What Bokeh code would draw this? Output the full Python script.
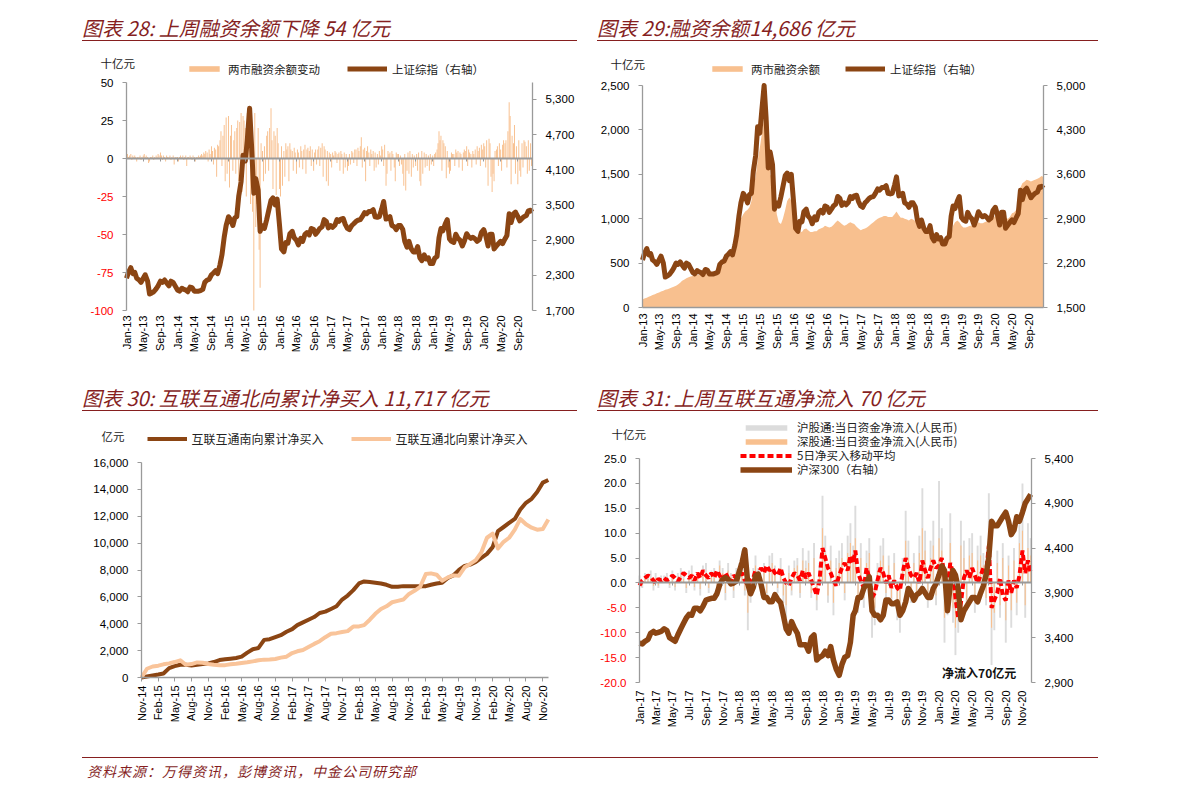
import math
import pandas as pd
from bokeh.plotting import figure
from bokeh.models import (Range1d, LinearAxis, DatetimeAxis, FixedTicker, DatetimeTickFormatter,
                          NumeralTickFormatter, CustomJSTickFormatter, Legend, LegendItem, Label, Div)
from bokeh.layouts import column, row
from bokeh.embed import file_html
from bokeh.resources import INLINE

# ============================ DATA ============================
# --- 图表28 / 图表29 : semi-monthly Shanghai Composite and margin balance (十亿元)
sse_dates = list(pd.date_range("2013-01-01", "2020-12-15", freq="SMS"))
sse_index = [
    2250, 2350, 2430, 2330, 2350, 2250, 2220, 2180, 2250, 2310, 2200, 1980, 2000, 2020, 2070, 2120, 2200, 2180, 2220, 2170, 2120, 2200, 2180, 2120,
    2050, 2030, 2080, 2060, 2050, 2020, 2100, 2090, 2030, 2030, 2030, 2040, 2060, 2180, 2220, 2230, 2310, 2340, 2380, 2330, 2480, 2650, 2950, 3150,
    3300, 3250, 3150, 3280, 3300, 3650, 3900, 4350, 4250, 4600, 5150, 4500, 3700, 3950, 3750, 3050, 3150, 3100, 3250, 3400, 3580, 3620, 3500, 3600,
    3150, 2750, 2700, 2860, 2850, 3010, 3050, 2940, 2900, 2820, 2930, 2880, 3000, 3030, 2990, 3100, 3080, 3000, 3050, 3100, 3130, 3250, 3220, 3110,
    3150, 3120, 3160, 3250, 3220, 3260, 3270, 3170, 3100, 3080, 3150, 3180, 3220, 3240, 3250, 3300, 3370, 3350, 3390, 3390, 3420, 3300, 3290, 3300,
    3430, 3560, 3260, 3270, 3300, 3150, 3130, 3080, 3150, 3150, 3080, 2880, 2780, 2880, 2750, 2700, 2700, 2790, 2600, 2550, 2650, 2580, 2600, 2500,
    2500, 2590, 2620, 2940, 3100, 3060, 3180, 3250, 2920, 2880, 2860, 3000, 2930, 2900, 2800, 2880, 3010, 2960, 2930, 2950, 2920, 2880, 2910, 3030,
    3080, 2980, 2800, 3000, 3000, 2750, 2800, 2840, 2880, 2840, 2920, 2980, 3350, 3200, 3350, 3380, 3300, 3230, 3270, 3300, 3320, 3400, 3410, 3380,
]
margin_balance = [
    90, 100, 110, 120, 130, 140, 150, 160, 170, 180, 190, 200, 205, 215, 225, 235, 245, 260, 280, 300, 315, 330, 340, 350,
    355, 360, 365, 370, 375, 380, 385, 390, 395, 400, 405, 410, 420, 440, 470, 500, 530, 560, 580, 620, 700, 800, 900, 1000,
    1050, 1080, 1100, 1130, 1200, 1350, 1480, 1650, 1800, 1950, 2150, 2270, 2100, 1500, 1450, 1350, 1050, 960, 940, 1000, 1100, 1200, 1240, 1200,
    1150, 900, 870, 860, 850, 880, 890, 870, 850, 850, 860, 860, 880, 890, 900, 920, 910, 900, 910, 930, 960, 980, 960, 940,
    920, 930, 950, 960, 950, 940, 910, 890, 870, 880, 890, 900, 920, 940, 960, 980, 1000, 1010, 1020, 1030, 1030, 1020, 1020, 1020,
    1050, 1080, 1040, 1010, 1010, 1000, 990, 980, 1000, 990, 970, 930, 900, 890, 870, 860, 850, 850, 820, 780, 770, 760, 760, 750,
    740, 750, 780, 830, 920, 960, 980, 960, 920, 900, 900, 910, 920, 920, 920, 930, 960, 950, 950, 960, 970, 980, 990, 1010,
    1030, 1040, 1030, 1080, 1080, 1010, 1000, 1020, 1060, 1070, 1100, 1150, 1350, 1400, 1420, 1440, 1430, 1420, 1430, 1440, 1450, 1460, 1480, 1470,
]
# weekly change in margin balance (十亿元)
chg_dates = [pd.Timestamp(y, m, d) for y in range(2013, 2021) for m in range(1, 13) for d in (1, 8, 15, 22)][:382]
margin_change = [
    2, 3, 1, 2, 3, -1, 2, 1, 2, 1, -2, 1, 1, 2, -1, 1, 2, 3, 1, 2, 1, -3, -2, 1, 1, 2, -1, 1, 2, 1, 3, 2, 4, 2, -1, 2, 1, -2, 2, 1, 1, 2, -1, 1, 2, -4, 1, 1,
    1, -2, 1, 2, 1, 2, -1, 1, 2, -5, 1, 1, 2, 1, -1, 2, 1, -2, 1, 1, 2, 1, 2, 3, 2, 4, 3, 5, 4, -2, 6, 3, 8, 5, -4, 7, 6, -12, 9, 8, 12, 18, -5, 15, 22, -15, 27, -10,
    28, -19, 15, 22, -8, 12, 18, -10, 20, 25, -15, 24, 30, -22, 28, 25, 20, -25, 30, 28, 33, -30, 15, -35, -100, 30, -45, -30, 20, -60, -85, 10, 5, -15, 8, -10, 15, 18, -8, 20, 33, 12, -20, 18, 15, -24, 20, 10,
    -20, -25, 8, -18, 5, -12, 10, 6, 8, -15, 10, 6, 5, -8, 7, 4, -10, 6, 4, -6, 8, 5, -7, 6, 9, -10, 6, 7, 5, 8, -5, 6, -8, 4, 6, -4, 6, 8, -5, 7, 10, -12, 8, 6, -15, 5, -18, 4,
    3, -6, 4, 2, 5, 4, -3, 3, 4, -8, 5, 3, -10, 4, -6, 3, -8, -5, 3, -4, 5, 4, -3, 6, 6, -5, 7, 5, 8, 14, -6, 6, 7, -15, 5, 8, 4, -5, 6, 3, 5, -8, 4, -6, 3, -4, 5, 2,
    8, 6, -5, 9, -18, -10, 5, 3, 4, -8, 5, 3, -6, -15, 4, 3, 3, -5, 2, -4, -10, -18, 3, -21, -8, 4, -10, 5, -12, 3, -6, 2, -5, 3, -8, 4, -15, -18, 5, -10, 4, -6, 3, -5, 2, -8, 3, -4,
    2, -5, 3, 4, 6, 10, 18, 12, 15, -8, 12, 10, 8, -13, 5, -6, -10, -8, 4, 3, 3, -5, 6, 4, 5, -6, 4, 3, -8, 4, 6, 5, 8, -5, 6, 4, 3, -6, 5, 3, 6, -4, 8, 5, 7, -5, 9, 6,
    10, 8, -6, 12, -18, 13, 10, -12, -22, -10, -15, 5, 6, 8, -5, 10, 6, -8, 9, 12, 10, 12, -6, 18, 37, 28, -17, 15, 10, 22, -10, 8, -17, 12, -8, -12, 10, -6, 12, 11, 8, -10, 12, -8, 10, -5,
]
ticks_2829 = list(pd.date_range("2013-01-01", "2020-09-01", freq="4MS"))
left_ticks_28 = [-100, -75, -50, -25, 0, 25, 50]
right_ticks_28 = [1700, 2300, 2900, 3500, 4100, 4700, 5300]
left_ticks_29 = [0, 500, 1000, 1500, 2000, 2500]
right_ticks_29 = [1500, 2200, 2900, 3600, 4300, 5000]

# --- 图表30 : monthly cumulative Stock Connect net buying (亿元)
hk_dates = [pd.Timestamp(2014, 11, 1), pd.Timestamp(2014, 12, 1)] + \
           [pd.Timestamp(y, m, 1) for y in range(2015, 2021) for m in range(1, 13)]
southbound = [
    0, 80,
    150, 220, 300, 700, 850, 950, 950, 900, 950, 1000, 1050, 1150,
    1300, 1350, 1400, 1450, 1550, 1850, 2100, 2200, 2800, 2850, 3000, 3150,
    3400, 3600, 3900, 4100, 4300, 4500, 4800, 4900, 5100, 5300, 5800, 6100,
    6500, 7000, 7150, 7100, 7050, 7000, 6900, 6750, 6750, 6800, 6800, 6800,
    6800, 6800, 6900, 7000, 7050, 7400, 7600, 8000, 8300, 8400, 8600, 8900,
    9200, 9700, 10900, 11200, 11500, 11800, 12500, 13000, 13300, 13800, 14500, 14700,
]
northbound = [
    0, 650,
    820, 880, 980, 1050, 1150, 1280, 950, 1000, 1120, 1100, 1000, 950,
    920, 920, 980, 1020, 1080, 1130, 1200, 1280, 1330, 1340, 1380, 1480,
    1550, 1820, 1950, 2050, 2270, 2500, 2700, 3000, 3250, 3300, 3380, 3450,
    3800, 3800, 3900, 4300, 4740, 5100, 5300, 5600, 5700, 5800, 6220, 6450,
    6750, 7700, 7750, 7650, 7200, 7450, 7600, 7580, 8200, 8450, 8740, 9300,
    10400, 10700, 9600, 10100, 10400, 11000, 11800, 11400, 11150, 11000, 11050, 11750,
]
ticks_30 = list(pd.date_range("2014-11-01", "2020-11-01", freq="3MS"))
left_ticks_30 = [0, 2000, 4000, 6000, 8000, 10000, 12000, 14000, 16000]

# --- 图表31 : Stock Connect flows (十亿元) and CSI 300, three readings per month
flow_dates = [pd.Timestamp(y, m, d) for y in range(2017, 2021) for m in range(1, 13) for d in (1, 11, 21)][:142]
sh_flow = [
    1.5, -1.0, 2.0, 1.0, 2.5, -1.5, 2.0, -1.0, 1.5, 1.5, 2.0, -1.0, 2.5, -1.5, 2.0, 3.0, 1.5, -2.0, 2.5, 3.5, -1.5, 2.0, -2.5, 3.5, 4.0, -2.0, 2.5, 3.0, -1.5, 4.5, 3.0, -3.5, 4.0, 2.0, -3.0, 3.0,
    4.0, 6.5, -2.5, -9.5, -4.0, 3.0, 5.5, 3.0, -2.5, 4.0, -3.5, 5.5, 6.0, 3.5, -2.0, 5.0, -4.0, -7.0, 3.5, -2.5, 4.5, 5.0, -3.0, 7.0, 4.5, 6.5, -3.0, 8.0, -5.5, 4.0, 17.5, 9.5, -4.0, 7.5, -6.5, 5.0,
    6.5, 8.0, -3.5, 9.5, 12.0, 7.5, 15.5, -6.0, 8.0, -5.0, 6.5, 9.0, -11.0, -8.5, 4.0, 7.5, 9.0, -3.5, 5.5, -4.5, 6.0, -7.5, -10.0, 5.0, 14.5, 8.5, -4.0, 6.0, -3.5, 9.5, 19.0, 10.5, -5.0, 8.5, 12.5, -4.5,
    20.5, 11.0, -12.0, -6.5, 14.0, -8.0, -14.5, -10.0, 12.5, 8.5, -5.5, 9.0, 10.0, -6.0, 7.5, 9.5, 6.0, -4.5, 18.0, -16.5, -9.5, 6.5, -7.0, 8.0, -12.0, 5.5, -9.0, 7.0, -6.5, 13.0, 20.0, -7.0, 12.0, 9.0,
]
sz_flow = [
    0.5, -0.5, 1.0, 0.8, 1.0, -0.6, 1.0, -0.5, 0.8, 0.6, 1.2, -0.4, 1.0, -0.8, 1.2, 1.5, 0.8, -1.0, 1.2, 2.0, -0.8, 1.0, -1.2, 2.5, 1.8, -1.0, 1.5, 2.0, -0.8, 3.5, 2.0, -2.0, 2.5, 1.2, -1.5, 2.0,
    2.5, 3.5, -1.5, -6.0, -2.5, 2.0, 3.5, 2.0, -1.5, 2.5, -2.0, 3.0, 4.0, 2.0, -1.0, 3.0, -2.5, -4.5, 2.0, -1.5, 3.0, 3.5, -2.0, 4.5, 3.0, 4.0, -2.0, 5.0, -3.5, 2.5, 11.0, 6.0, -2.5, 4.5, -4.0, 3.0,
    4.0, 5.0, -2.0, 6.0, 8.0, 4.5, 9.0, -4.0, 5.0, -3.0, 4.0, 6.0, -7.0, -5.0, 2.5, 4.5, 5.5, -2.0, 3.5, -3.0, 4.0, -4.5, -6.0, 3.0, 8.5, 5.0, -2.5, 4.0, -2.0, 6.0, 11.0, 6.5, -3.0, 5.0, 7.5, -2.5,
    9.0, 6.5, -7.0, -4.0, 8.0, -5.0, -9.0, -6.0, 7.5, 5.0, -3.5, 5.5, 6.0, -4.0, 4.5, 5.5, 3.5, -3.0, 11.0, -9.0, -6.0, 4.0, -4.5, 5.0, -7.5, 3.5, -5.5, 4.5, -4.0, 8.0, 10.5, -4.5, 7.0, 5.5,
]
ma5_flow = [
    -0.5, 0.5, 1.0, 1.5, 1.2, 0.5, 0.0, 0.8, 0.5, 1.0, 0.5, 0.8, 1.5, 1.0, 0.3, 1.2, 2.0, 1.5, 1.0, 1.5, 0.5, 2.0, 1.0, 2.5, 1.5, 1.0, 2.0, 1.0, 2.5, 1.5, 0.5, 2.0, 1.0, 0.0, 1.5, 1.0,
    1.5, 2.0, 0.5, -0.5, 0.5, 1.0, 2.5, 1.5, 3.0, 2.0, 3.5, 2.5, 3.0, 2.0, 1.5, 3.0, 1.0, 0.0, -0.5, 1.0, 2.0, 1.5, 0.5, 2.5, 1.0, 2.0, 0.5, -1.0, -2.5, 0.5, 7.0, 5.0, 3.0, 2.0, 0.5, -0.5,
    1.5, 3.0, 4.0, 2.5, 5.5, 4.0, 6.5, 2.0, 0.5, -1.0, 3.0, 1.0, -3.0, -2.0, 0.5, 3.0, 2.0, 0.0, 1.5, -1.0, 0.5, -1.0, -1.5, 2.0, 5.0, 3.0, 1.5, 1.0, 2.0, 0.0, 4.5, 2.5, 1.0, 3.0, 4.5, 3.0,
    3.5, 5.0, 1.5, -1.0, 4.0, 2.0, -3.0, -7.0, -4.0, 1.0, 2.5, 1.0, 3.0, 1.5, 0.0, 1.5, 3.0, 2.0, 7.5, -5.0, -3.5, -2.0, 1.0, -2.5, -3.5, 0.5, -2.0, 0.5, -1.0, 1.5, 6.5, 2.0, 4.5, 2.0,
]
csi300 = [
    3340, 3330, 3360, 3380, 3450, 3470, 3450, 3460, 3470, 3500, 3480, 3400, 3380, 3360, 3430, 3500, 3560, 3620, 3660, 3650, 3730, 3730, 3700, 3750, 3820, 3830, 3840, 3840, 3890, 3990, 4050, 4070, 4050, 4000, 4010, 4030,
    4140, 4240, 4380, 4000, 3890, 3960, 4090, 4110, 4000, 3850, 3850, 3800, 3800, 3880, 3830, 3790, 3650, 3500, 3450, 3580, 3510, 3450, 3320, 3320, 3320, 3250, 3400, 3430, 3150, 3180, 3200, 3250, 3200, 3300, 3150, 3050,
    2980, 3100, 3180, 3200, 3350, 3650, 3700, 3850, 3850, 3950, 4000, 4080, 3700, 3650, 3650, 3600, 3650, 3820, 3820, 3780, 3780, 3800, 3650, 3700, 3800, 3950, 3900, 3820, 3880, 3900, 3950, 3900, 3850, 3850, 3950, 4000,
    4100, 4200, 4150, 3700, 4000, 4150, 4100, 3950, 3600, 3700, 3750, 3800, 3850, 3850, 3800, 3900, 3980, 4100, 4300, 4700, 4650, 4650, 4700, 4750, 4800, 4700, 4550, 4600, 4750, 4700, 4800, 4900, 4950, 5000,
]
ticks_31 = list(pd.date_range("2017-01-01", "2020-11-01", freq="2MS"))
left_ticks_31 = [-20, -15, -10, -5, 0, 5, 10, 15, 20, 25]
right_ticks_31 = [2900, 3400, 3900, 4400, 4900, 5400]

assert len(sse_index) == len(sse_dates) == len(margin_balance) == 192
assert len(margin_change) == len(chg_dates) == 382
assert len(southbound) == len(northbound) == len(hk_dates) == 74
assert len(sh_flow) == len(sz_flow) == len(ma5_flow) == len(csi300) == len(flow_dates) == 142

# ============================ STYLE ============================
FONT_NUM = "Liberation Sans"
FONT_CJK = "Noto Sans CJK SC"
BROWN = "#8B4513"
PEACH = "#F8C08F"
PEACH_LINE = "#F9C49A"
GRAY_BAR = "#DCDCDC"
RED = "#FF0000"
AXIS_GRAY = "#9A9A9A"
TITLE_RED = "#861F1F"
DAY = 86400000.0
DATE_FMT = DatetimeTickFormatter(**{k: "%b-%y" for k in ["milliseconds", "seconds", "minsec", "minutes",
                                                         "hourmin", "hours", "days", "months", "years"]})


def ms(t):
    return pd.Timestamp(t).value / 1e6


def make_panel(box, data_box, xdom, ydom):
    """box / data_box: page-pixel (left, top, right, bottom) of the figure and of its plotting area.
    The whole figure is the frame, so that legends and unit texts above the axes are not clipped."""
    L, T, R, B = box
    dl, dt, dr, db = data_box
    X0, X1 = ms(xdom[0]), ms(xdom[1])
    kx = (X1 - X0) / (dr - dl)

    def fx(px):
        return X0 + (px - dl) * kx

    def mk_y(lo, hi):
        ky = (hi - lo) / (db - dt)
        return Range1d(lo - (B - db) * ky, hi + (dt - T) * ky), (lambda py: lo + (db - py) * ky)

    yr, fy = mk_y(*ydom)
    p = figure(width=R - L, height=B - T, x_range=Range1d(fx(L), fx(R)), y_range=yr,
               x_axis_location=None, y_axis_location=None, min_border=0, toolbar_location=None,
               output_backend="svg", outline_line_color=None,
               background_fill_color="white", border_fill_color="white")
    p.title.visible = False
    p.grid.visible = False
    return dict(p=p, L=L, T=T, R=R, B=B, X0=X0, X1=X1, fx=fx, fy=fy, mk_y=mk_y, ydom=ydom)


def style_axis(ax, size="11.5px", standoff=9, tick_out=4, line=True, color="#000000", lw=1.3):
    ax.axis_line_color = AXIS_GRAY if line else None
    ax.axis_line_width = lw
    ax.major_tick_line_color = AXIS_GRAY if (line and tick_out) else None
    ax.major_tick_out = tick_out
    ax.major_tick_in = 0
    ax.minor_tick_line_color = None
    ax.major_label_text_font = FONT_NUM
    ax.major_label_text_font_size = size
    ax.major_label_text_color = color
    ax.major_label_standoff = standoff


def yaxis(P, side, ticks, bounds, formatter, range_name="default", color="#000000", line=True):
    loc = P["X0"] if side == "left" else P["X1"]
    ax = LinearAxis(y_range_name=range_name, fixed_location=loc, bounds=bounds,
                    ticker=FixedTicker(ticks=ticks), formatter=formatter)
    style_axis(ax, line=line, color=color)
    P["p"].add_layout(ax, side)


def xaxis(P, yloc, ticks, labels=True, line=False, tick_out=0, standoff=5, lw=1.3):
    ax = DatetimeAxis(fixed_location=yloc, bounds=(P["X0"], P["X1"]), ticker=FixedTicker(ticks=[ms(t) for t in ticks]),
                      formatter=DATE_FMT if labels else CustomJSTickFormatter(code="return '';"))
    style_axis(ax, size="11px", standoff=standoff, tick_out=tick_out, line=line, lw=lw)
    ax.major_label_orientation = math.pi / 2
    P["p"].add_layout(ax, "below")


def split_left_axis(P, ticks, digits):
    lo, hi = P["ydom"]
    yaxis(P, "left", ticks, (lo, hi),
          CustomJSTickFormatter(code="return tick >= 0 ? tick.toFixed(%d) : '';" % digits))
    yaxis(P, "left", ticks, (lo, hi),
          CustomJSTickFormatter(code="return tick < 0 ? tick.toFixed(%d) : '';" % digits),
          color=RED, line=False)


def add_legend(P, label, renderer, page_x, page_cy, gw=40, gh=7, size=11.5):
    """one legend entry; page_x = left edge of its swatch, page_cy = vertical centre of the entry"""
    h = 1.2 * size
    lg = Legend(items=[LegendItem(label=label, renderers=[renderer])],
                location=(page_x - P["L"], P["B"] - page_cy - h / 2),
                orientation="horizontal", glyph_width=gw, glyph_height=gh, label_standoff=5,
                padding=0, margin=0, spacing=0, border_line_color=None, background_fill_alpha=0,
                label_text_font=FONT_CJK, label_text_font_size=f"{size}px", label_text_color="#222222",
                label_height=int(h))
    P["p"].add_layout(lg)


def page_text(P, text, page_x, page_y, size="11.5px"):
    P["p"].add_layout(Label(x=P["fx"](page_x), y=P["fy"](page_y), text=text, text_align="left",
                            text_baseline="middle", text_font=FONT_CJK, text_font_size=size,
                            text_color="#222222"))


# ============================ 图表28 ============================
x0_28, x1_28 = "2013-01-01", "2020-12-15"
P1 = make_panel((0, 44, 587, 370), (126, 82, 532, 310), (x0_28, x1_28), (-100, 50))
p1 = P1["p"]
rng, _ = P1["mk_y"](1700, 5590)
p1.extra_y_ranges = {"idx": rng}
r_bar = p1.vbar(x=[ms(d) for d in chg_dates], top=margin_change, bottom=0, width=7 * DAY,
                fill_color=PEACH, line_color=None)
r_sse1 = p1.line([ms(d) for d in sse_dates], sse_index, y_range_name="idx", line_color=BROWN,
                 line_width=5, line_join="round")
split_left_axis(P1, left_ticks_28, 0)
yaxis(P1, "right", right_ticks_28, (1700, 5590), NumeralTickFormatter(format="0,0"), range_name="idx")
xaxis(P1, 0, ticks_2829, labels=False, line=True, tick_out=3, lw=2)
xaxis(P1, -100, ticks_2829, labels=True, line=False, tick_out=0, standoff=5)
add_legend(P1, "两市融资余额变动", r_bar, 185, 70, gw=38)
add_legend(P1, "上证综指（右轴）", r_sse1, 347, 70, gw=40)
page_text(P1, "十亿元", 100, 62)

# ============================ 图表29 ============================
P2 = make_panel((587, 44, 1100, 370), (642, 85, 1043, 307), (x0_28, x1_28), (0, 2500))
p2 = P2["p"]
rng, _ = P2["mk_y"](1500, 5000)
p2.extra_y_ranges = {"idx": rng}
r_area = p2.varea(x=[ms(d) for d in sse_dates], y1=0, y2=margin_balance, fill_color=PEACH)
# the reference clips the index line at the top of its right axis (5,000)
r_sse2 = p2.line([ms(d) for d in sse_dates], [min(v, 5000) for v in sse_index], y_range_name="idx",
                 line_color=BROWN, line_width=5, line_join="round")
yaxis(P2, "left", left_ticks_29, (0, 2500), NumeralTickFormatter(format="0,0"))
yaxis(P2, "right", right_ticks_29, (1500, 5000), NumeralTickFormatter(format="0,0"), range_name="idx")
xaxis(P2, 0, ticks_2829, labels=True, line=True, tick_out=0, standoff=6)
add_legend(P2, "两市融资余额", r_area, 708, 70, gw=38)
add_legend(P2, "上证综指（右轴）", r_sse2, 845, 70, gw=40)
page_text(P2, "十亿元", 610, 63)

# ============================ 图表30 ============================
x0_30, x1_30 = "2014-11-01", "2020-12-02"
P3 = make_panel((0, 414, 587, 745), (141, 462, 548, 677), (x0_30, x1_30), (0, 16000))
p3 = P3["p"]
r_south = p3.line([ms(d) for d in hk_dates], southbound, line_color=BROWN, line_width=4, line_join="round")
r_north = p3.line([ms(d) for d in hk_dates], northbound, line_color=PEACH_LINE, line_width=4, line_join="round")
yaxis(P3, "left", left_ticks_30, (0, 16000), NumeralTickFormatter(format="0,0"))
xaxis(P3, 0, ticks_30, labels=True, line=True, tick_out=4, standoff=4)
add_legend(P3, "互联互通南向累计净买入", r_south, 146.5, 440, gw=40, size=12)
add_legend(P3, "互联互通北向累计净买入", r_north, 350.5, 440, gw=40, size=12)
page_text(P3, "亿元", 101, 435)

# ============================ 图表31 ============================
x0_31, x1_31 = "2017-01-01", "2020-12-04"
P4 = make_panel((587, 414, 1100, 745), (639, 458, 1031, 682), (x0_31, x1_31), (-20, 25))
p4 = P4["p"]
rng, _ = P4["mk_y"](2900, 5400)
p4.extra_y_ranges = {"idx": rng}
fx4 = [ms(d) for d in flow_dates]
r_sh = p4.vbar(x=fx4, top=sh_flow, bottom=0, width=7 * DAY, fill_color=GRAY_BAR, line_color=None)
r_sz = p4.vbar(x=fx4, top=sz_flow, bottom=0, width=4 * DAY, fill_color=PEACH, line_color=None)
r_ma = p4.line(fx4, ma5_flow, line_color=RED, line_width=4, line_dash="6 3")
r_csi = p4.line(fx4, csi300, y_range_name="idx", line_color=BROWN, line_width=5.5, line_join="round")
split_left_axis(P4, left_ticks_31, 1)
yaxis(P4, "right", right_ticks_31, (2900, 5400), NumeralTickFormatter(format="0,0"), range_name="idx")
xaxis(P4, 0, ticks_31, labels=False, line=True, tick_out=3, lw=2)
xaxis(P4, -20, ticks_31, labels=True, line=False, tick_out=0, standoff=8)
add_legend(P4, "沪股通:当日资金净流入(人民币)", r_sh, 740, 428.5, gw=52, gh=7, size=11.5)
add_legend(P4, "深股通:当日资金净流入(人民币)", r_sz, 740, 442.5, gw=52, gh=7, size=11.5)
add_legend(P4, "5日净买入移动平均", r_ma, 740, 456.5, gw=52, gh=7, size=11.5)
add_legend(P4, "沪深300（右轴）", r_csi, 740, 470.5, gw=52, gh=7, size=11.5)
page_text(P4, "十亿元", 611, 433)
p4.add_layout(Label(x=ms("2020-01-12"), y=-18, text="净流入70亿元", text_align="left",
                    text_baseline="middle", text_font=FONT_CJK, text_font_size="12px",
                    text_font_style="bold", text_color="#111111"))

# ============================ TITLES / FOOTER ============================
def title_row(items):
    inner = "".join(
        f'<div style="position:absolute;left:{x}px;top:15px;width:{w}px;height:26px;line-height:26px;'
        f'border-bottom:1.5px solid {TITLE_RED};color:{TITLE_RED};font-family:\'{FONT_CJK}\';'
        f'font-style:italic;font-size:20px;white-space:nowrap;">{t}</div>' for x, w, t in items)
    return Div(text=f'<div style="position:relative;width:1191px;height:44px;">{inner}</div>',
               width=1191, height=44, margin=0)


titles_top = title_row([(82, 495, "图表 28: 上周融资余额下降 54 亿元"),
                        (597, 501, "图表 29:融资余额14,686 亿元")])
titles_bottom = title_row([(82, 495, "图表 30: 互联互通北向累计净买入 11,717 亿元"),
                           (597, 501, "图表 31: 上周互联互通净流入 70 亿元")])
footer = Div(text=(f'<div style="position:relative;width:1191px;height:52px;">'
                   f'<div style="position:absolute;left:82px;top:12px;width:1016px;'
                   f'border-top:1.5px solid {TITLE_RED};padding-top:3px;padding-left:5px;line-height:20px;'
                   f'color:{TITLE_RED};font-family:\'{FONT_CJK}\';font-style:italic;font-size:14px;'
                   f'letter-spacing:1px;">'
                   f'资料来源：万得资讯，彭博资讯，中金公司研究部</div></div>'),
             width=1191, height=52, margin=0)

layout = column(titles_top, row(p1, p2), titles_bottom, row(p3, p4), footer)
open("out.html", "w").write(file_html(layout, INLINE))
